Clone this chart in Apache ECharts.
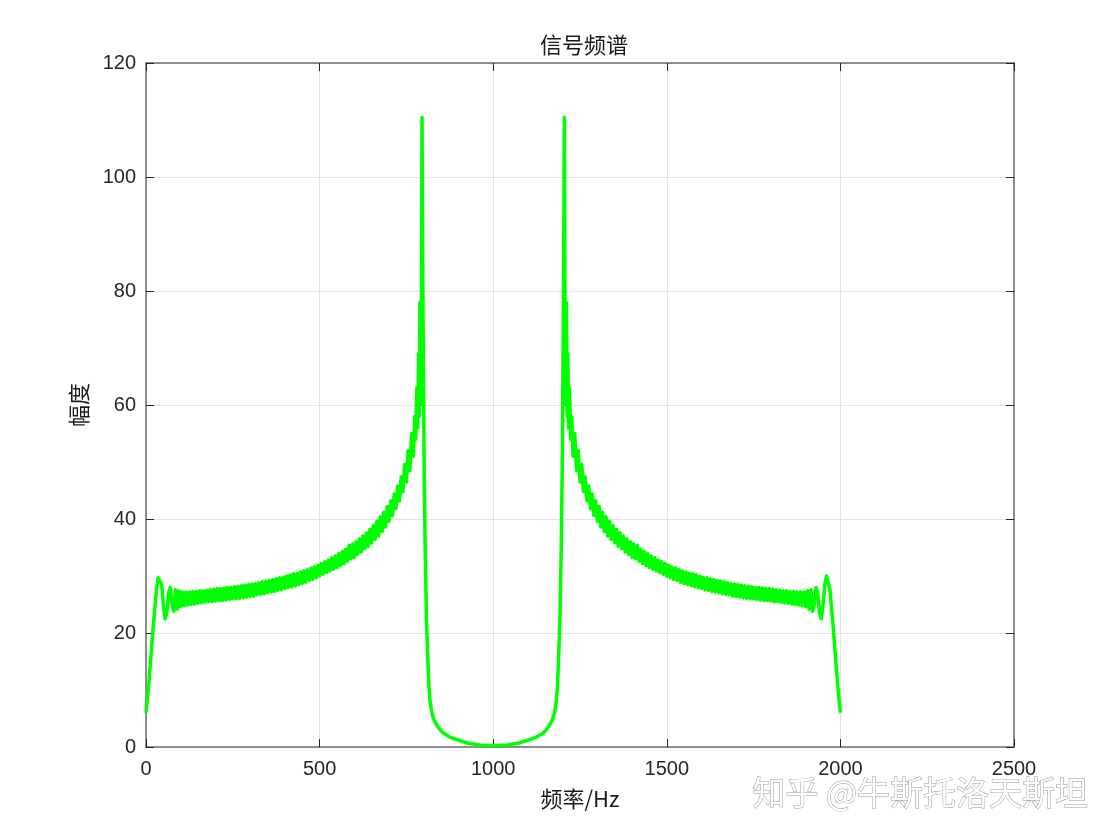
<!DOCTYPE html>
<html>
<head>
<meta charset="utf-8">
<script src="https://cdn.jsdelivr.net/npm/echarts@6/dist/echarts.min.js"></script>
<style>
html,body{margin:0;padding:0;background:#fff;}
#chart{width:1120px;height:840px;}
</style>
</head>
<body>
<div id="chart"></div>
<script>
// Frequency (Hz) / amplitude samples
// Left half (0 - 1000 Hz)
var freqLeft = [
  0,5,10,15,20,25,30,35,40,45,
  50,55,60,65,70,75,80,
  85,90,95,100,105,110,115,120,125,130,
  135,140,145,150,155,160,165,170,175,180,
  185,190,195,200,205,210,215,220,225,230,
  235,240,245,250,255,260,265,270,275,280,
  285,290,295,300,305,310,315,320,325,330,
  335,340,345,350,355,360,365,370,375,380,
  385,390,395,400,405,410,415,420,425,430,
  435,440,445,450,455,460,465,470,475,480,
  485,490,495,500,505,510,515,520,525,530,
  535,540,545,550,555,560,565,570,575,580,
  585,590,595,600,605,610,615,620,625,630,
  635,640,645,650,655,660,665,670,675,680,
  685,690,695,700,705,710,715,720,725,730,
  735,740,745,750,755,760,765,770,
  774,777,780,783,785,787,789,791,793,795,
  798,801,804,808,812,815,818,822,828,835,
  841,855,875,900,925,960,1000
];
var ampLeft = [
  6,9,12.5,16.5,20.5,24,27.5,29.7,30,28.5,
  25,22.5,23.5,27,28,25,23.8,
  27.6,24.2,27.4,24.6,27.2,24.8,27.2,24.9,27.2,25.0,
  27.3,25.1,27.3,25.2,27.4,25.3,27.4,25.4,27.5,25.5,
  27.6,25.5,27.7,25.6,27.8,25.7,27.8,25.7,27.9,25.8,
  28.0,25.9,28.0,26.0,28.1,26.0,28.2,26.1,28.3,26.2,
  28.4,26.3,28.5,26.4,28.6,26.5,28.7,26.7,28.8,26.8,
  29.0,26.9,29.1,27.1,29.2,27.2,29.4,27.3,29.5,27.5,
  29.7,27.6,29.8,27.8,30.0,28.0,30.2,28.1,30.4,28.3,
  30.5,28.5,30.7,28.7,30.9,28.9,31.1,29.2,31.4,29.4,
  31.6,29.7,31.9,30.0,32.2,30.3,32.5,30.6,32.8,30.9,
  33.2,31.2,33.5,31.5,33.9,31.8,34.3,32.2,34.7,32.6,
  35.4,33.0,35.6,33.3,36.0,33.8,36.5,34.2,37.0,34.8,
  37.6,35.2,38.2,35.8,38.8,36.4,39.6,37.0,40.4,37.8,
  41.2,38.6,42.2,39.6,43.2,40.6,44.4,41.8,45.8,43.2,
  47.4,44.8,49.6,46.5,52.0,48.5,55.0,51.0,
  58,54,63,56,69,58,78,60,72,110.5,
  75,50,35,22,15,10.5,8.2,6.4,5.0,4.1,
  3.5,2.5,1.75,1.2,0.7,0.35,0.2
];
// Right half (1000 - 2000 Hz)
var freqRight = [
  1040,1075,1100,1125,1145,1159,1165,1172,1178,1182,
  1185,1188,1192,1196,1199,1202,1205,1207,1209,1211,
  1213,1215,1217,1220,1223,1226,1230,
  1235,1240,1245,1250,1255,1260,1265,1270,1275,1280,
  1285,1290,1295,1300,1305,1310,1315,1320,1325,1330,
  1335,1340,1345,1350,1355,1360,1365,1370,1375,1380,
  1385,1390,1395,1400,1405,1410,1415,1420,1425,1430,
  1435,1440,1445,1450,1455,1460,1465,1470,1475,1480,
  1485,1490,1495,1500,1505,1510,1515,1520,1525,1530,
  1535,1540,1545,1550,1555,1560,1565,1570,1575,1580,
  1585,1590,1595,1600,1605,1610,1615,1620,1625,1630,
  1635,1640,1645,1650,1655,1660,1665,1670,1675,1680,
  1685,1690,1695,1700,1705,1710,1715,1720,1725,1730,
  1735,1740,1745,1750,1755,1760,1765,1770,1775,1780,
  1785,1790,1795,1800,1805,1810,1815,1820,1825,1830,
  1835,1840,1845,1850,1855,1860,1865,1870,1875,1880,
  1885,1890,1895,1900,1905,1910,1915,
  1920,1925,1930,1935,1940,1945,1950,1955,1960,1965,
  1970,1975,1980,1985,1990,1995,2000
];
var ampRight = [
  0.35,0.7,1.2,1.75,2.5,3.5,4.1,5.0,6.4,8.2,
  10.5,15,22,35,50,75,110.5,72,60,78,
  58,69,56,63,54,58,51,
  55.0,48.5,52.0,46.5,49.6,44.8,47.4,43.2,45.8,41.8,
  44.4,40.6,43.2,39.6,42.2,38.6,41.2,37.8,40.4,37.0,
  39.6,36.4,38.8,35.8,38.2,35.2,37.6,34.8,37.0,34.2,
  36.5,33.8,36.0,33.3,35.6,33.0,35.4,32.6,34.7,32.2,
  34.3,31.8,33.9,31.5,33.5,31.2,33.2,30.9,32.8,30.6,
  32.5,30.3,32.2,30.0,31.9,29.7,31.6,29.4,31.4,29.2,
  31.1,28.9,30.9,28.7,30.7,28.5,30.5,28.3,30.4,28.1,
  30.2,28.0,30.0,27.8,29.8,27.6,29.7,27.5,29.5,27.3,
  29.4,27.2,29.2,27.1,29.1,26.9,29.0,26.8,28.8,26.7,
  28.7,26.5,28.6,26.4,28.5,26.3,28.4,26.2,28.3,26.1,
  28.2,26.0,28.1,26.0,28.0,25.9,28.0,25.8,27.9,25.7,
  27.8,25.7,27.8,25.6,27.7,25.5,27.6,25.5,27.5,25.4,
  27.4,25.3,27.4,25.2,27.3,25.1,27.3,25.0,27.2,24.9,
  27.2,24.8,27.2,24.6,27.4,24.2,27.6,
  23.8,25,28,27,23.5,22.5,25,28.5,30,29.7,
  27.5,24,20.5,16.5,12.5,9,6
];
var xTicks = [0,500,1000,1500,2000,2500];
var yTicks = [0,20,40,60,80,100,120];

var pts = [];
freqLeft.forEach(function(f,i){ if(ampLeft[i]!==undefined) pts.push([f, ampLeft[i]]); });
freqRight.forEach(function(f,i){ if(ampRight[i]!==undefined) pts.push([f, ampRight[i]]); });

var chart = echarts.init(document.getElementById('chart'), null, {renderer:'canvas'});
var axisColor = '#262626';
var boxColor = '#6e6e6e';
var font = '"Liberation Sans", "Noto Sans CJK SC", sans-serif';
var cjk = '"Noto Sans CJK SC", "Liberation Sans", sans-serif';
var plain = function(v){ return String(v); };

chart.setOption({
  backgroundColor:'#ffffff',
  animation:false,
  title:{
    text:'信号频谱', left:579, top:29, textAlign:'center',
    textStyle:{fontFamily:cjk, fontSize:22, fontWeight:'normal', color:'#1a1a1a'}
  },
  grid:{left:146, right:106, top:63, bottom:93, containLabel:false},
  xAxis:[{
    type:'value', min:xTicks[0], max:xTicks[xTicks.length-1], interval:500,
    name:'频率/Hz', nameLocation:'middle', nameGap:41,
    nameTextStyle:{fontFamily:cjk, fontSize:22, color:'#1a1a1a'},
    axisLine:{show:true, onZero:false, lineStyle:{color:boxColor, width:1.5}},
    axisTick:{show:true, inside:true, length:8, lineStyle:{color:axisColor, width:1}},
    axisLabel:{fontFamily:font, fontSize:20, color:axisColor, margin:12, formatter:plain},
    splitLine:{show:true, lineStyle:{color:'#e3e3e3', width:1}}
  },{
    type:'value', position:'top', min:xTicks[0], max:xTicks[xTicks.length-1], interval:500,
    axisLine:{show:true, onZero:false, lineStyle:{color:boxColor, width:1.5}},
    axisTick:{show:true, inside:true, length:8, lineStyle:{color:axisColor, width:1}},
    axisLabel:{show:false}, splitLine:{show:false}
  }],
  yAxis:[{
    type:'value', min:yTicks[0], max:yTicks[yTicks.length-1], interval:20,
    name:'幅度', nameLocation:'middle', nameGap:56, nameRotate:90,
    nameTextStyle:{fontFamily:cjk, fontSize:22, color:'#1a1a1a'},
    axisLine:{show:true, onZero:false, lineStyle:{color:boxColor, width:1.5}},
    axisTick:{show:true, inside:true, length:8, lineStyle:{color:axisColor, width:1}},
    axisLabel:{fontFamily:font, fontSize:20, color:axisColor, margin:10, formatter:plain},
    splitLine:{show:true, lineStyle:{color:'#e3e3e3', width:1}}
  },{
    type:'value', position:'right', min:yTicks[0], max:yTicks[yTicks.length-1], interval:20,
    axisLine:{show:true, onZero:false, lineStyle:{color:boxColor, width:1.5}},
    axisTick:{show:true, inside:true, length:8, lineStyle:{color:axisColor, width:1}},
    axisLabel:{show:false}, splitLine:{show:false}
  }],
  series:[{
    type:'line', xAxisIndex:0, yAxisIndex:0, data:pts,
    showSymbol:false, symbol:'none', smooth:false,
    lineStyle:{color:'#00ff00', width:3.5, join:'round'},
    z:3
  }],
  graphic:[{
    type:'text', left:752, top:775, z:100,
    style:{
      text:'知乎 @牛斯托洛天斯坦',
      font:'normal 33px "Noto Sans CJK SC", sans-serif',
      fill:'#ffffff', stroke:'#9a9a9a', lineWidth:1,
      shadowColor:'rgba(0,0,0,0.45)', shadowBlur:2, shadowOffsetX:2, shadowOffsetY:2
    }
  }]
});
</script>
</body>
</html>
